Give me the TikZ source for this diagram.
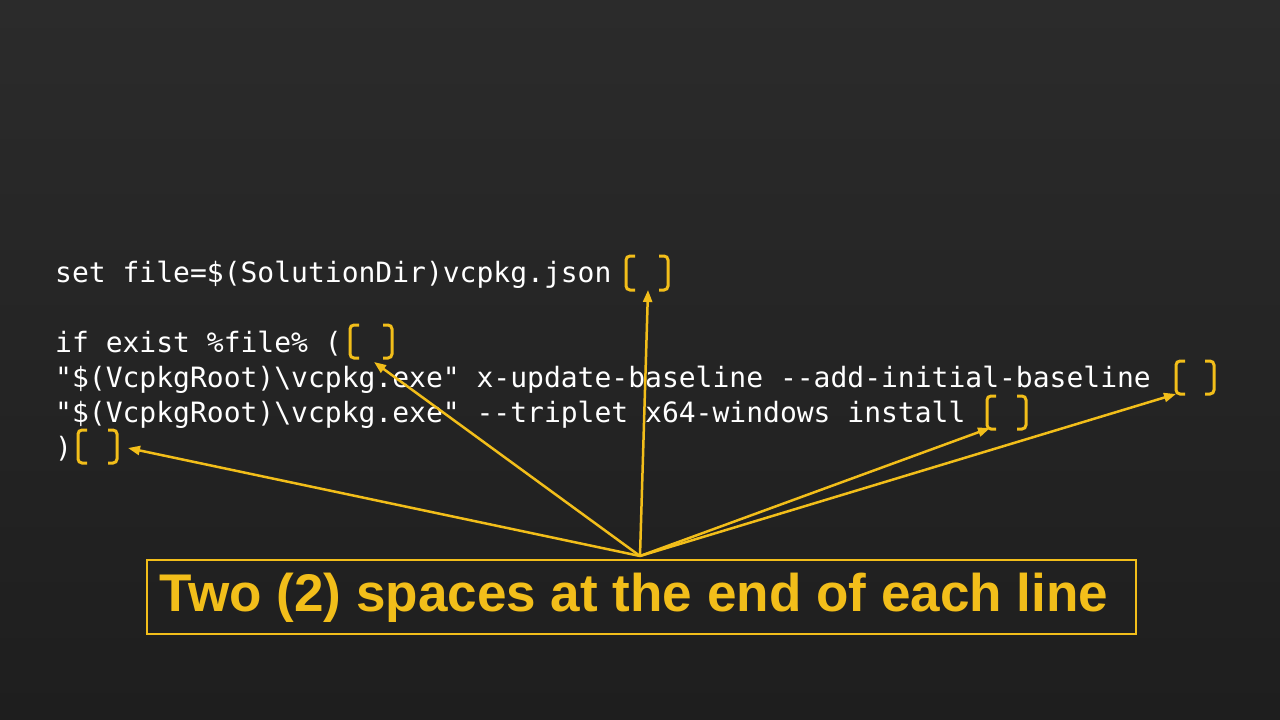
\documentclass[tikz,border=0pt]{standalone}
\usepackage{fontspec}
\newfontfamily\codefont{DejaVu Sans Mono}
\newfontfamily\boxfont{Liberation Sans}
\usetikzlibrary{arrows.meta}
\definecolor{bgA}{HTML}{2B2B2B}
\definecolor{bgB}{HTML}{1E1E1E}
\definecolor{gold}{HTML}{F2BE1A}
\tikzset{
  code/.style={anchor=base west,inner sep=0pt,text=white,font=\codefont\fontsize{28}{28}\selectfont},
  brk/.style={draw=gold,line width=3pt,rounded corners=4pt},
  ptr/.style={draw=gold,line width=2.5pt,-{Triangle[length=12pt,width=9pt]}}
}
\begin{document}
\begin{tikzpicture}[x=1pt,y=-1pt]
\shade[top color=bgA,bottom color=bgB] (0,0) rectangle (1280,720);
\useasboundingbox (0,0) rectangle (1280,720);
\node[code] (l1) at (55,282) {set file=\$(SolutionDir)vcpkg.json};
\node[code] (l3) at (55,352) {if exist \%file\% (};
\node[code] (l4) at (55,387) {"\$(VcpkgRoot)\textbackslash vcpkg.exe" x-update-baseline --add-initial-baseline};
\node[code] (l5) at (55,422) {"\$(VcpkgRoot)\textbackslash vcpkg.exe" --triplet x64-windows install};
\node[code] (l6) at (55,457) {)};
% brackets: left x, right x, top y, bottom y
\foreach \lx/\rx/\ty/\by in {626/668/256/290, 350/392/325/358, 1176/1214/361/394, 987/1026/396/429, 78/117/430/463}{
  \draw[brk] (\lx+9,\ty) -- (\lx,\ty) -- (\lx,\by) -- (\lx+9,\by);
  \draw[brk] (\rx-9,\ty) -- (\rx,\ty) -- (\rx,\by) -- (\rx-9,\by);
}
\node[draw=gold,line width=2.5pt,minimum width=989pt,minimum height=74pt,inner sep=0pt] (box) at (641.5,597) {};
\node[text=gold,inner sep=0pt] (msg) at (634,598) {\resizebox{948pt}{!}{\boxfont\bfseries Two (2) spaces at the end of each line}};
\coordinate (o) at (640,556);
\coordinate (t1) at (648,290);
\coordinate (t3) at (374,362);
\coordinate (t4) at (1176,394);
\coordinate (t5) at (990,428);
\coordinate (t6) at (128,448);
\foreach \t in {t1,t3,t4,t5,t6} \draw[ptr] (o) -- (\t);
\end{tikzpicture}
\end{document}
